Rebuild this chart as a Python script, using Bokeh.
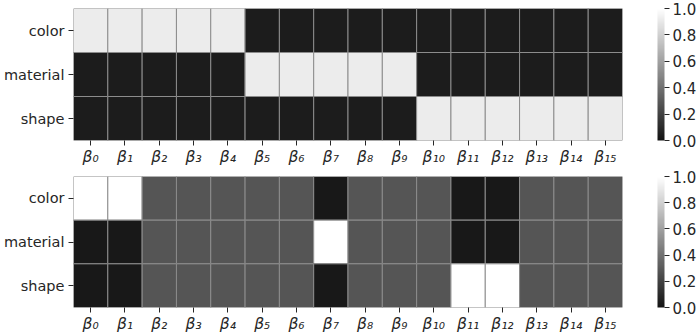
from bokeh.plotting import figure
from bokeh.models import LinearColorMapper, ColorBar, FixedTicker, PrintfTickFormatter, FactorRange, ColumnDataSource
from bokeh.layouts import column
from bokeh.embed import file_html
from bokeh.resources import INLINE

attributes = ["color", "material", "shape"]
betas = ["β₀", "β₁", "β₂", "β₃", "β₄", "β₅", "β₆", "β₇", "β₈", "β₉",
         "β₁₀", "β₁₁", "β₁₂", "β₁₃", "β₁₄", "β₁₅"]

# top heatmap values (rows: color, material, shape)
top_color =    [0.92]*5 + [0.04]*11
top_material = [0.04]*5 + [0.92]*5 + [0.04]*6
top_shape =    [0.04]*10 + [0.92]*6

# bottom heatmap values
bot_color =    [1.0, 1.0, 0.28, 0.28, 0.28, 0.28, 0.28, 0.02, 0.28, 0.28, 0.28, 0.02, 0.02, 0.28, 0.28, 0.28]
bot_material = [0.02, 0.02, 0.28, 0.28, 0.28, 0.28, 0.28, 1.0, 0.28, 0.28, 0.28, 0.02, 0.02, 0.28, 0.28, 0.28]
bot_shape =    [0.02, 0.02, 0.28, 0.28, 0.28, 0.28, 0.28, 0.02, 0.28, 0.28, 0.28, 1.0, 1.0, 0.28, 0.28, 0.28]

cb_ticks = [0.0, 0.2, 0.4, 0.6, 0.8, 1.0]

def lerp_hex(a, b, t):
    v = int(round(a + (b - a) * t))
    return "#%02x%02x%02x" % (v, v, v)

palette = [lerp_hex(0x13, 0xff, i / 255) for i in range(256)]

def make_heat(rows, height, top_border, bottom_border):
    xs, ys, vals = [], [], []
    for name, row in zip(attributes, rows):
        for b, v in zip(betas, row):
            xs.append(b); ys.append(name); vals.append(v)
    src = ColumnDataSource(dict(x=xs, y=ys, v=vals))
    mapper = LinearColorMapper(palette=palette, low=0, high=1)
    p = figure(x_range=FactorRange(factors=betas, range_padding=0),
               y_range=FactorRange(factors=attributes[::-1], range_padding=0),
               width=700, height=height,
               min_border_left=71, min_border_right=78,
               min_border_top=top_border, min_border_bottom=bottom_border,
               output_backend="svg", toolbar_location=None)
    p.rect(x="x", y="y", width=1, height=1, source=src,
           fill_color={"field": "v", "transform": mapper},
           line_color="#8c8c8c", line_width=1)
    p.outline_line_color = None
    p.xgrid.grid_line_color = None
    p.ygrid.grid_line_color = None
    for ax in (p.xaxis, p.yaxis):
        ax.axis_line_color = None
        ax.major_tick_in = 0
        ax.major_tick_out = 5
        ax.major_tick_line_color = "#262626"
        ax.major_label_text_font = "DejaVu Sans"
        ax.major_label_text_font_size = "14.5px"
        ax.major_label_text_color = "#262626"
        ax.minor_tick_line_color = None
    p.xaxis.major_label_text_font_style = "italic"
    p.xaxis.major_label_text_font_size = "15.5px"
    p.xaxis.major_label_standoff = 2
    p.yaxis.major_label_standoff = 4
    cb = ColorBar(color_mapper=mapper, width=7, height="auto",
                  ticker=FixedTicker(ticks=cb_ticks),
                  formatter=PrintfTickFormatter(format="%.1f"),
                  padding=0, margin=0, location=(35, 0),
                  major_tick_in=0, major_tick_out=5,
                  major_tick_line_color="#262626",
                  major_label_text_font="DejaVu Sans",
                  major_label_text_font_size="15px",
                  major_label_text_color="#262626",
                  bar_line_color=None, background_fill_color=None,
                  border_line_color=None, label_standoff=3)
    p.add_layout(cb, "right")
    return p

p1 = make_heat([top_color, top_material, top_shape], 168, 8, 25)
p2 = make_heat([bot_color, bot_material, bot_shape], 167, 8, 25)

layout = column(p1, p2, spacing=0)
open("out.html", "w").write(file_html(layout, INLINE))
